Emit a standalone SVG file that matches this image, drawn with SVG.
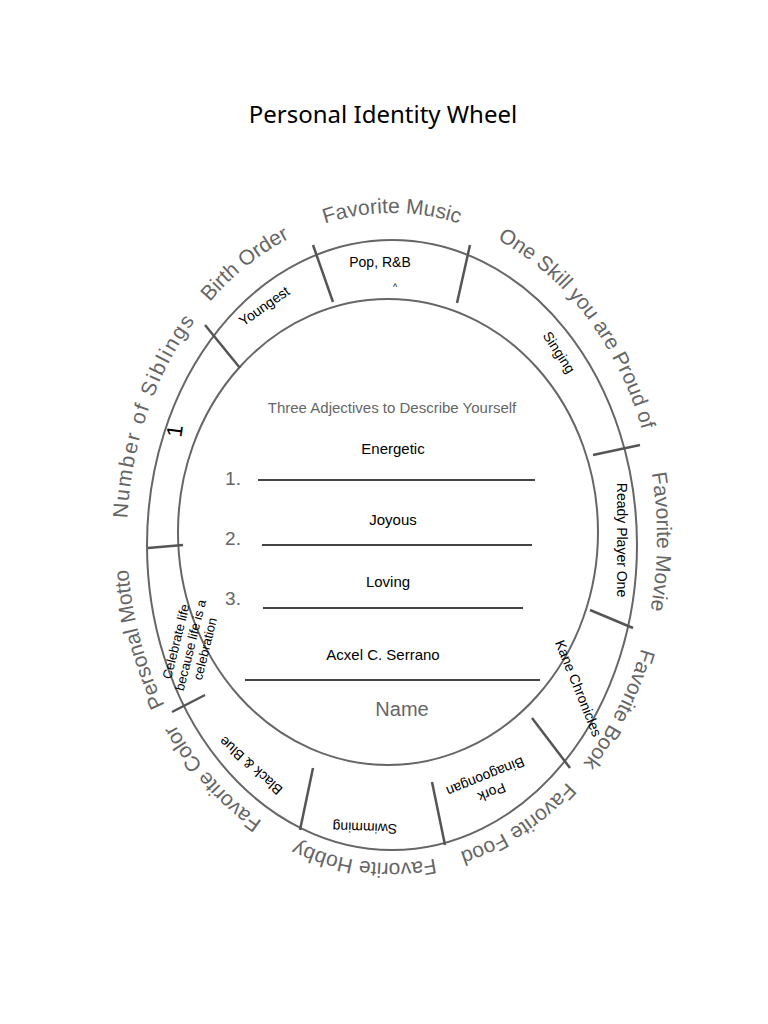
<svg xmlns="http://www.w3.org/2000/svg" width="768" height="1024" viewBox="0 0 768 1024">
<style>
.ring{fill:none;stroke:#666;stroke-width:2}
.div{stroke:#555;stroke-width:2.5}
.lbl{font-family:"Liberation Sans",Arial,sans-serif;font-size:21px;fill:#666}
.ans{font-family:"Liberation Sans",Arial,sans-serif;font-size:14px;fill:#000;text-anchor:middle}
.g{font-family:"Liberation Sans",Arial,sans-serif;fill:#666;text-anchor:middle}
.ln{stroke:#444;stroke-width:2}
</style>
<defs>
<path id="lp" d="M127,538 A265,325 0 1 1 657,538 A265,325 0 1 1 127,538"/>
</defs>
<rect width="768" height="1024" fill="#fff"/>
<text x="383" y="123" font-family="Noto Sans,sans-serif" font-size="24" text-anchor="middle" fill="#000">Personal Identity Wheel</text>
<g id="wheel">
<ellipse class="ring" cx="392" cy="545" rx="245" ry="305"/>
<ellipse class="ring" cx="388" cy="532" rx="210" ry="233"/>
</g>
<g id="connectors">
<line class="div" x1="313" y1="245" x2="333" y2="302"/>
<line class="div" x1="470" y1="245" x2="457" y2="303"/>
<line class="div" x1="205" y1="325" x2="240" y2="368"/>
<line class="div" x1="593" y1="455" x2="640" y2="445"/>
<line class="div" x1="590" y1="610" x2="633" y2="628"/>
<line class="div" x1="532" y1="718" x2="570" y2="768"/>
<line class="div" x1="432" y1="782" x2="445" y2="845"/>
<line class="div" x1="313" y1="768" x2="300" y2="830"/>
<line class="div" x1="205" y1="695" x2="172" y2="712"/>
<line class="div" x1="148" y1="548" x2="183" y2="545"/>
</g>
<g id="labels" class="lbl" text-anchor="middle">
<text style="letter-spacing:2px"><textPath href="#lp" startOffset="6.8%">Number  of  Siblings</textPath></text>
<text><textPath href="#lp" startOffset="16.5%">Birth Order</textPath></text>
<text><textPath href="#lp" startOffset="25%">Favorite Music</textPath></text>
<text><textPath href="#lp" startOffset="37.5%">One Skill you are Proud of</textPath></text>
<text><textPath href="#lp" startOffset="50.2%">Favorite Movie</textPath></text>
<text><textPath href="#lp" startOffset="59.5%">Favorite Book</textPath></text>
<text><textPath href="#lp" startOffset="67.8%">Favorite Food</textPath></text>
<text><textPath href="#lp" startOffset="76.5%">Favorite Hobby</textPath></text>
<text><textPath href="#lp" startOffset="86%">Favorite Color</textPath></text>
<text><textPath href="#lp" startOffset="94.5%">Personal Motto</textPath></text>
</g>
<g id="answers">
<text class="ans" x="380" y="267">Pop, R&amp;B</text>
<text class="ans" x="395" y="290" style="font-size:9px">^</text>
<text class="ans" transform="translate(267,310) rotate(-35)">Youngest</text>
<text class="ans" style="font-size:22px" transform="translate(182,432) rotate(-82)">1</text>
<text class="ans" transform="translate(555,355) rotate(57)">Singing</text>
<text class="ans" transform="translate(617,540) rotate(90)">Ready Player One</text>
<text class="ans" transform="translate(574,690) rotate(68)">Kane Chronicles</text>
<text class="ans" transform="translate(490,788) rotate(158)"><tspan x="0" y="0">Pork</tspan><tspan x="0" y="17">Binagoongan</tspan></text>
<text class="ans" transform="translate(365,823) rotate(182)">Swimming</text>
<text class="ans" transform="translate(254,762) rotate(-138)">Black &amp; Blue</text>
<text class="ans" style="font-size:13px" transform="translate(190,645) rotate(-76)"><tspan x="0" y="-10">Celebrate life</tspan><tspan x="0" y="5">because life is a</tspan><tspan x="0" y="20">celebration</tspan></text>
</g>
<g id="center">
<text class="g" x="392" y="413" style="font-size:15px">Three Adjectives to Describe Yourself</text>
<text class="ans" x="393" y="454" style="font-size:15px">Energetic</text>
<text class="g" x="233" y="485" style="font-size:19px">1.</text>
<line class="ln" x1="258" y1="480" x2="535" y2="480"/>
<text class="ans" x="393" y="525" style="font-size:15px">Joyous</text>
<text class="g" x="233" y="545" style="font-size:19px">2.</text>
<line class="ln" x1="262" y1="545" x2="532" y2="545"/>
<text class="ans" x="388" y="587" style="font-size:15px">Loving</text>
<text class="g" x="233" y="605" style="font-size:19px">3.</text>
<line class="ln" x1="263" y1="608" x2="523" y2="608"/>
<text class="ans" x="383" y="660" style="font-size:15px">Acxel C. Serrano</text>
<line class="ln" x1="245" y1="680" x2="540" y2="680"/>
<text class="g" x="402" y="716" style="font-size:20px">Name</text>
</g>
</svg>
